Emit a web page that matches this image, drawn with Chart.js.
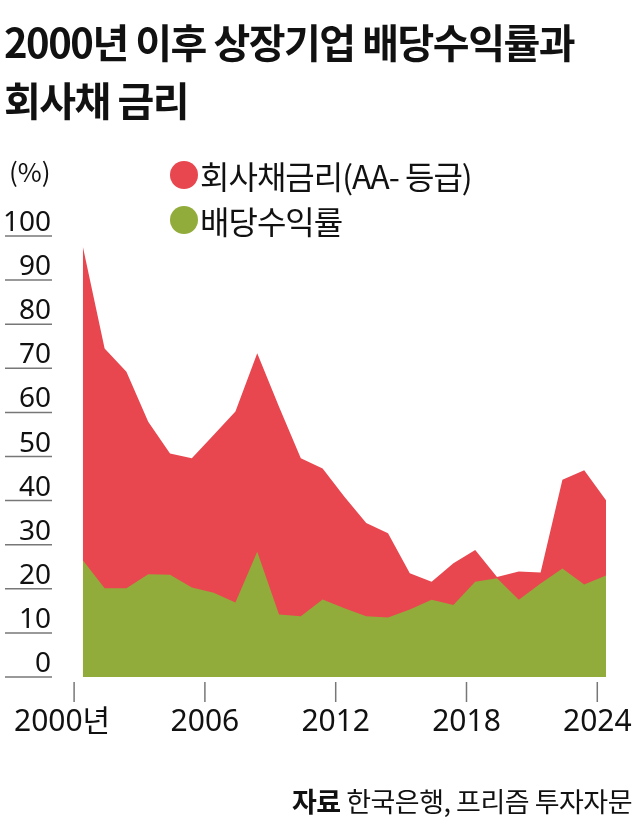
<!DOCTYPE html>
<html><head><meta charset="utf-8">
<script src="https://cdn.jsdelivr.net/npm/chart.js@4"></script>
<style>
body{margin:0;width:640px;height:830px;position:relative;background:#fff;font-family:"Noto Sans CJK KR","Noto Sans",sans-serif;color:#111}
#c{position:absolute;left:0;top:0}
.t{position:absolute;left:4px;top:12px;font-size:40px;font-weight:700;line-height:58px;letter-spacing:-1.5px;white-space:nowrap}
.lg{position:absolute;left:170px;font-size:32px;display:flex;align-items:center;letter-spacing:-1px;white-space:nowrap}
.dot{width:28px;height:28px;border-radius:50%;margin-right:2px}
.pc{position:absolute;left:9px;top:152px;font-size:26px}
.src{position:absolute;right:8px;top:781px;font-size:27px;letter-spacing:-0.5px;white-space:nowrap}
</style></head><body>
<canvas id="c" width="640" height="830"></canvas>
<div class="t">2000년 이후 상장기업 배당수익률과<br>회사채 금리</div>
<div class="pc">(%)</div>
<div class="lg" style="top:152px"><div class="dot" style="background:#E8474F"></div>회사채금리(AA- 등급)</div>
<div class="lg" style="top:197px"><div class="dot" style="background:#92AC3C"></div>배당수익률</div>
<div class="src"><b>자료</b> 한국은행, 프리즘 투자자문</div>
<script>
const years=[2000,2001,2002,2003,2004,2005,2006,2007,2008,2009,2010,2011,2012,2013,2014,2015,2016,2017,2018,2019,2020,2021,2022,2023,2024];
const bondRate=[97.6,74.5,69.2,57.9,50.7,49.6,54.9,60.2,73.4,61.3,49.6,47.3,40.9,34.9,32.6,23.5,21.6,25.8,28.8,22.7,23.9,23.7,44.7,46.9,40.1];
const dividendYield=[26.5,20.1,20.1,23.3,23.2,20.3,19.1,16.9,28.4,14.2,13.8,17.6,15.6,13.8,13.5,15.3,17.5,16.3,21.6,22.4,17.5,21.2,24.6,21.0,23.0];
const yTicks=[0,10,20,30,40,50,60,70,80,90,100];
const xTicks=[2000,2006,2012,2018,2024];
const xTickLabels=['2000년','2006','2012','2018','2024'];
const pts=a=>a.map((v,i)=>({x:years[i]+0.4,y:v}));
const deco={id:'deco',afterDraw(ch){
 const c=ch.ctx,xs=ch.scales.x,ys=ch.scales.y;c.save();
 c.strokeStyle='#777';c.lineWidth=1.5;c.fillStyle='#111';
 c.font='28px "Noto Sans","Noto Sans CJK KR",sans-serif';c.textAlign='right';c.textBaseline='alphabetic';
 yTicks.forEach(v=>{const y=ys.getPixelForValue(v);c.beginPath();c.moveTo(5,y);c.lineTo(52,y);c.stroke();c.fillText(String(v),51,y-5);});
 c.font='30px "Noto Sans","Noto Sans CJK KR",sans-serif';c.textAlign='center';c.textBaseline='middle';
 xTicks.forEach((t,i)=>{const x=xs.getPixelForValue(t);c.beginPath();c.moveTo(x,682);c.lineTo(x,702);c.stroke();c.fillText(xTickLabels[i],i===0?x-12:x,722);});
 c.restore();}};
new Chart(document.getElementById('c'),{type:'line',
 data:{datasets:[
  {data:pts(dividendYield),fill:'origin',backgroundColor:'#92AC3C',borderWidth:0,pointRadius:0,tension:0},
  {data:pts(bondRate),fill:'origin',backgroundColor:'#E8474F',borderWidth:0,pointRadius:0,tension:0}]},
 options:{responsive:false,animation:false,devicePixelRatio:1,
  layout:{padding:{left:5,right:5,top:236,bottom:153}},
  plugins:{legend:{display:false},tooltip:{enabled:false}},
  scales:{x:{type:'linear',min:1996.83,max:2025.73,display:false},y:{min:0,max:100,display:false}}},
 plugins:[deco]});
</script></body></html>
